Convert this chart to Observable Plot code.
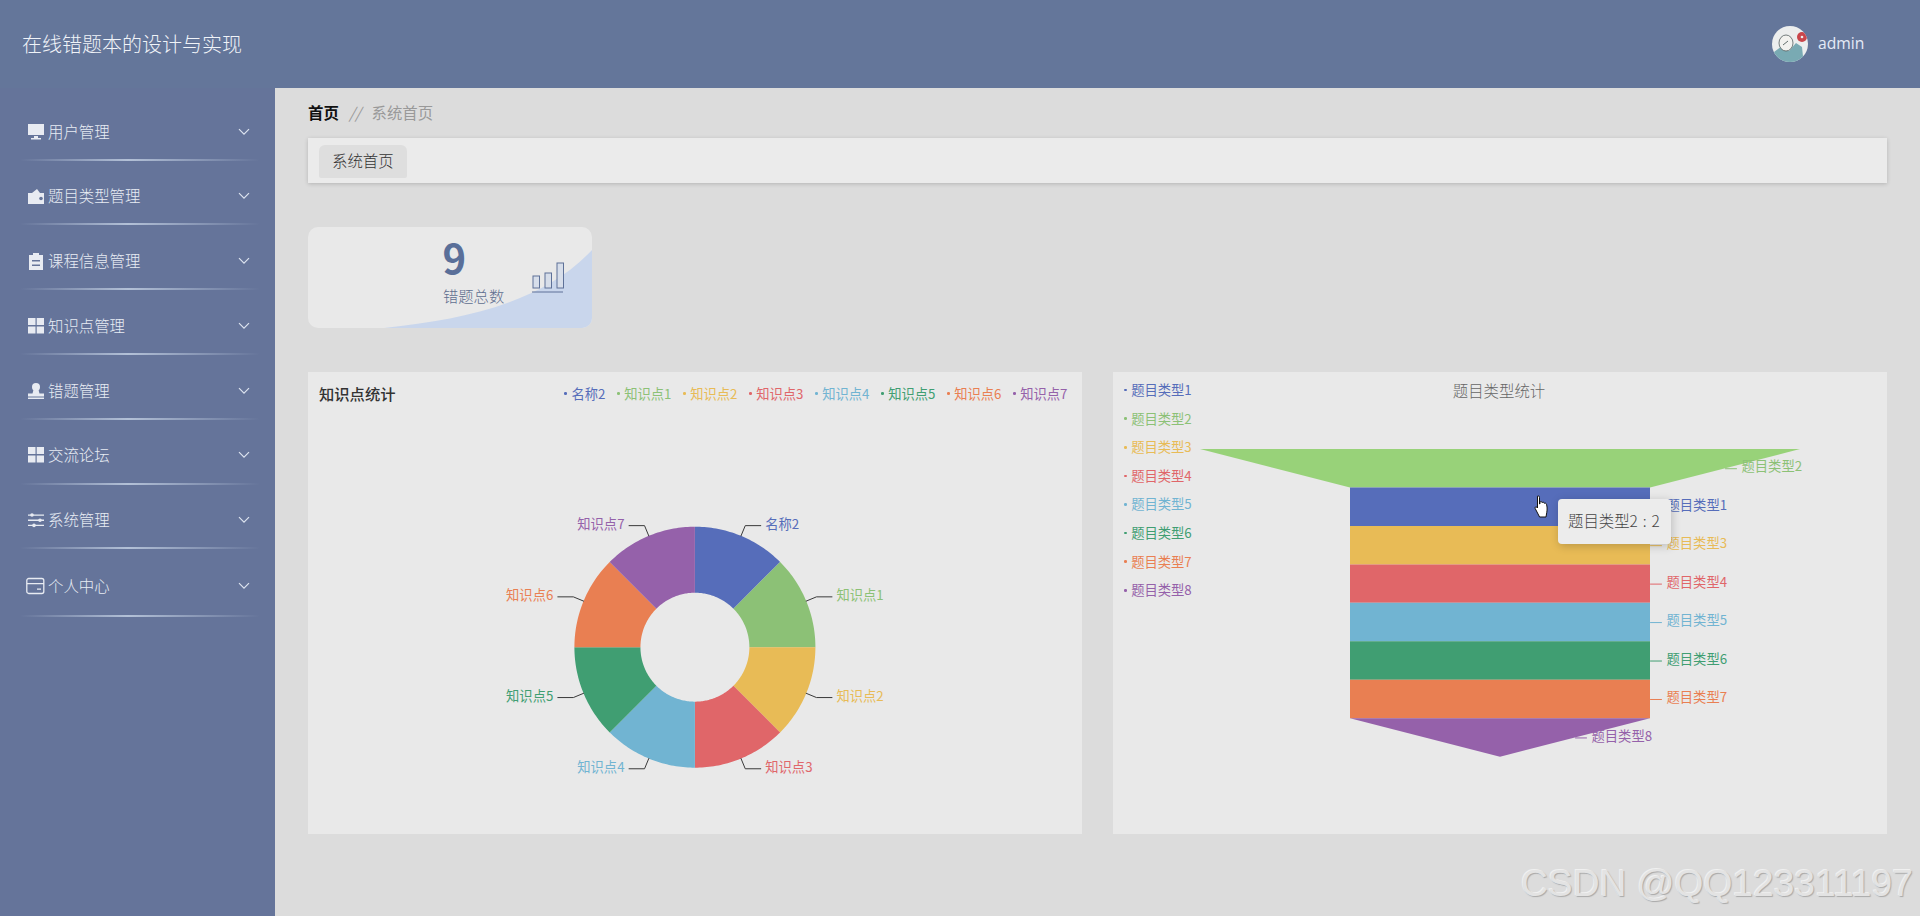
<!DOCTYPE html>
<html lang="zh">
<head>
<meta charset="utf-8">
<title>在线错题本的设计与实现</title>
<script src="https://cdn.jsdelivr.net/npm/d3@7"></script>
<script src="https://cdn.jsdelivr.net/npm/@observablehq/plot@0.6"></script>
<style>
html,body{margin:0;padding:0;width:1920px;height:916px;overflow:hidden;background:#dcdcdc;font-family:"Noto Sans CJK SC","Noto Sans",sans-serif;}
.abs{position:absolute;white-space:nowrap;line-height:1;}
#header{position:absolute;left:0;top:0;width:1920px;height:88px;background:#64769a;}
#side{position:absolute;left:0;top:88px;width:275px;height:828px;background:#65749a;}
.divider{position:absolute;left:20px;width:240px;height:2px;background:linear-gradient(90deg,rgba(255,255,255,0),rgba(205,218,235,.75) 45%,rgba(255,255,255,0));}
.panel{position:absolute;top:372px;width:774px;height:462px;background:#e9e9e9;}
.panel svg{position:absolute;left:0;top:0;}
.legendH{position:absolute;right:14.5px;top:13.5px;display:flex;gap:11.55px;font-size:13.3px;height:16px;align-items:center;}
.legendV{position:absolute;left:11px;top:3.8px;font-size:13.3px;}
.li{display:flex;align-items:center;white-space:nowrap;line-height:16px;}
.li i{display:block;width:2.6px;height:2.6px;border-radius:50%;margin-right:4.6px;background:currentColor;}
.legendV .li{height:28.6px;}
</style>
</head>
<body>
<div id="root"></div>
<script>
// ---- chart data ----
const knowledgeNames = ["名称2","知识点1","知识点2","知识点3","知识点4","知识点5","知识点6","知识点7"];
const knowledgeValues = [1,1,1,1,1,1,1,1];
const typeNames = ["题目类型1","题目类型2","题目类型3","题目类型4","题目类型5","题目类型6","题目类型7","题目类型8"];
const typeValues = [1,2,1,1,1,1,1,1];
const seriesColors = ["#566dba","#8cc176","#e8bb56","#e06669","#71b4d2","#409e72","#e97f52","#9561aa"];
const hoverGreen = "#98d279";
const menuNames = ["用户管理","题目类型管理","课程信息管理","知识点管理","错题管理","交流论坛","系统管理","个人中心"];
const totalWrong = "9";
const fontCJK = '"Noto Sans CJK SC"';

// ---- page chrome ----
const root = document.getElementById("root");
function add(html){ root.insertAdjacentHTML("beforeend", html); }
const ic = {
 monitor:'<path d="M1 1h16v11H1z" fill="currentColor"/><path d="M7 13h4v2h3v1.5H4V15h3z" fill="currentColor"/>',
 bag:'<path d="M1 6h16v11H1z" fill="currentColor"/><path d="M5 6l5-4 3 4z" fill="currentColor"/><circle cx="14" cy="11.5" r="1.8" fill="#65749a"/>',
 clip:'<path d="M2 3h14v15H2z" fill="currentColor"/><path d="M6 1h6v3H6z" fill="currentColor"/><path d="M5 8h8v1.4H5zM5 12.5h8v1.4H5z" fill="#65749a"/>',
 grid:'<path d="M1 1h7.5v7H1zM9.7 1H17v7H9.7zM1 9.4h7.5V16.5H1zM9.7 9.4H17v7H9.7z" fill="currentColor"/>',
 stamp:'<circle cx="9" cy="5" r="4" fill="currentColor"/><path d="M6.5 8h5l1 3.5H17v3H1v-3h4.5zM1 15.5h16V17H1z" fill="currentColor"/>',
 sliders:'<path d="M1 3.4h16v1.3H1zM1 8.6h16v1.3H1zM1 13.8h16v1.3H1z" fill="currentColor"/><circle cx="5" cy="4" r="1.8" fill="currentColor"/><circle cx="13" cy="9.2" r="1.8" fill="currentColor"/><circle cx="7" cy="14.4" r="1.8" fill="currentColor"/>',
 card:'<rect x=".8" y="1.5" width="17" height="15" rx="2" fill="none" stroke="currentColor" stroke-width="1.3"/><path d="M1 6h17v1.2H1zM11 11.5h4v1.2h-4z" fill="currentColor"/>'
};
const menuIcons = ["monitor","bag","clip","grid","stamp","grid","sliders","card"];
const menuTextY = [132,196.2,261,326,391,455.2,520.3,586];
const menuLineY = [160,224,289,354,419,483.6,548,616];

add('<div id="side"></div><div id="header"></div>');
add('<div class="abs" style="left:22px;top:34px;font-size:20px;color:#f0f3f8;font-weight:300;">在线错题本的设计与实现</div>');
add(`<svg class="abs" style="left:1772px;top:26px" width="36" height="36" viewBox="0 0 36 36">
<defs><clipPath id="av"><circle cx="18" cy="18" r="18"/></clipPath></defs>
<g clip-path="url(#av)"><rect width="36" height="36" fill="#eceeee"/>
<path d="M2 26l8-6 7 5 7-8 6 4 2 19H5z" fill="#79aab3"/>
<ellipse cx="14" cy="17" rx="7" ry="8" fill="#f2f2ef" stroke="#54605f" stroke-width=".8"/>
<path d="M11 19l5-4" stroke="#54605f" stroke-width=".9"/>
<circle cx="30" cy="11" r="5" fill="#c9464b"/><circle cx="30" cy="11" r="1.3" fill="#eee"/></g></svg>`);
add('<div class="abs" style="left:1818px;top:36px;font-size:15.7px;color:#e4eaf6;font-family:\'Open Sans\',sans-serif;">admin</div>');

menuNames.forEach((n,i)=>{
  add(`<svg class="abs" style="left:${i==7?26:27}px;top:${menuTextY[i]-9.5}px;color:#e8ebf2" width="19" height="18" viewBox="0 0 19 18">${ic[menuIcons[i]]}</svg>`);
  add(`<div class="abs" style="left:48px;top:${menuTextY[i]-8.5}px;font-size:15.4px;color:#e8ecf4;font-weight:300;">${n}</div>`);
  add(`<svg class="abs" style="left:238px;top:${menuTextY[i]-4.5}px" width="12" height="8" viewBox="0 0 12 8"><path d="M1 1.2l5 5 5-5" fill="none" stroke="#dde4f0" stroke-width="1.2"/></svg>`);
  add(`<div class="divider" style="top:${menuLineY[i]-1}px"></div>`);
});

add('<div class="abs" style="left:308px;top:104.5px;font-size:15.4px;font-weight:700;color:#111;">首页</div>');
add('<div class="abs" style="left:349px;top:104.5px;font-size:15.4px;font-style:italic;color:#999;">//</div>');
add('<div class="abs" style="left:371.5px;top:104.5px;font-size:15.4px;color:#999;">系统首页</div>');
add('<div style="position:absolute;left:308px;top:138px;width:1579px;height:45px;background:#ebebeb;box-shadow:0 1px 4px rgba(0,0,0,.18);"></div>');
add('<div style="position:absolute;left:319px;top:145px;width:88px;height:33px;background:#dedede;border-radius:6px 6px 2px 2px;"></div>');
add('<div class="abs" style="left:332px;top:152.5px;font-size:15.4px;color:#333;font-weight:300;">系统首页</div>');

// stat card
add(`<svg class="abs" style="left:308px;top:227px" width="284" height="101" viewBox="0 0 284 101">
<defs><clipPath id="cc"><rect width="284" height="101" rx="10"/></clipPath></defs>
<g clip-path="url(#cc)"><rect width="284" height="101" fill="#e9e9e9"/>
<path d="M76 101C160 92 235 75 284 23V101Z" fill="#c9d6ec"/></g>
<g fill="#d7deea" stroke="#5e7198" stroke-width="1"><rect x="225" y="49" width="6.5" height="12"/><rect x="237" y="46" width="6.5" height="15"/><rect x="249" y="36" width="6.5" height="25"/></g>
<path d="M224 65h31" stroke="#5e7198" stroke-width="1"/></svg>`);
add(`<div class="abs" style="left:442.5px;top:237px;font-size:40px;font-weight:700;color:#5a6f99;">${totalWrong}</div>`);
add('<div class="abs" style="left:443px;top:287.5px;font-size:15.3px;color:#5f6f8f;font-weight:300;">错题总数</div>');

// panels
add('<div class="panel" id="pL" style="left:308px"></div><div class="panel" id="pR" style="left:1113px"></div>');
const pL = document.getElementById("pL"), pR = document.getElementById("pR");

// ---- donut: Plot marks driven by values ----
const panelW = 774, panelH = 462;
const donutR = 120.5, donutCx = 386.4, donutCy = 274.7, holeRatio = 0.452;
const pieArcs = d3.pie().sort(null)(knowledgeValues);
const polar = (r,a)=>({x:r*Math.sin(a),y:r*Math.cos(a)});
const sliceRows = [], leaderRows = [], donutLabels = [];
pieArcs.forEach((arc,i)=>{
  const name = knowledgeNames[i];
  const steps = 40;
  const angles = d3.range(steps+1).map(k=>arc.startAngle+(arc.endAngle-arc.startAngle)*k/steps);
  angles.forEach(a=>sliceRows.push({name,...polar(1,a)}));
  angles.slice().reverse().forEach(a=>sliceRows.push({name,...polar(holeRatio,a)}));
  const mid = (arc.startAngle+arc.endAngle)/2;
  const side = Math.sin(mid)>=0 ? 1 : -1;
  const p0 = polar(1,mid), p1 = polar(1.092,mid), p2 = {x:p1.x+side*15.5/donutR,y:p1.y};
  leaderRows.push({name,...p0},{name,...p1},{name,...p2});
  donutLabels.push({name,side,x:p2.x,y:p2.y});
});
const donut = Plot.plot({
  width:panelW,height:panelH,margin:0,
  style:{background:"transparent",fontFamily:fontCJK},
  x:{axis:null,domain:[-donutCx/donutR,(panelW-donutCx)/donutR],range:[0,panelW]},
  y:{axis:null,domain:[-(panelH-donutCy)/donutR,donutCy/donutR],range:[panelH,0]},
  color:{domain:knowledgeNames,range:seriesColors},
  marks:[
    Plot.line(sliceRows,{x:"x",y:"y",z:"name",fill:"name",stroke:"none"}),
    Plot.line(leaderRows,{x:"x",y:"y",z:"name",stroke:"#3a3a3a",strokeWidth:1}),
    Plot.text(donutLabels.filter(d=>d.side>0),{x:"x",y:"y",text:"name",fill:"name",textAnchor:"start",dx:4.5,dy:-1,fontSize:13.3}),
    Plot.text(donutLabels.filter(d=>d.side<0),{x:"x",y:"y",text:"name",fill:"name",textAnchor:"end",dx:-4.5,dy:-1,fontSize:13.3})
  ]
});
pL.appendChild(donut);
pL.insertAdjacentHTML("beforeend",'<div class="abs" style="left:11px;top:14.2px;font-size:15.3px;font-weight:500;color:#333;">知识点统计</div>');
pL.insertAdjacentHTML("beforeend",'<div class="legendH">'+knowledgeNames.map((n,i)=>`<div class="li" style="color:${seriesColors[i]}"><i></i>${n}</div>`).join("")+'</div>');

// ---- funnel ----
const funnelOrder = d3.range(typeNames.length).sort((a,b)=>d3.descending(typeValues[a],typeValues[b])||a-b);
const funnelMax = d3.max(typeValues);
const funnelUnitX = 300, funnelCx = 387, funnelTop = 77, funnelRow = 38.46;
const funnelRows = [], funnelLeaders = [], funnelLabels = [];
funnelOrder.forEach((t,rank)=>{
  const name = typeNames[t], color = seriesColors[t];
  const w0 = typeValues[t]/funnelMax;
  const nx = funnelOrder[rank+1];
  const w1 = nx===undefined ? 0 : typeValues[nx]/funnelMax;
  const fill = t===1 ? hoverGreen : color;
  funnelRows.push({name,fill,y:rank,x1:-w0,x2:w0},{name,fill,y:rank+1,x1:-w1,x2:w1});
  const edge = (w0+w1)/2, y = rank+.5;
  funnelLeaders.push({name,color,x:edge,y},{name,color,x:edge+11/funnelUnitX,y});
  funnelLabels.push({name,color,x:edge+11/funnelUnitX,y});
});
const funnel = Plot.plot({
  width:panelW,height:panelH,margin:0,
  style:{background:"transparent",fontFamily:fontCJK},
  x:{axis:null,domain:[-funnelCx/funnelUnitX,(panelW-funnelCx)/funnelUnitX],range:[0,panelW]},
  y:{axis:null,domain:[-funnelTop/funnelRow,(panelH-funnelTop)/funnelRow],range:[0,panelH]},
  marks:[
    Plot.areaX(funnelRows,{y:"y",x1:"x1",x2:"x2",z:"name",fill:d=>d.fill}),
    Plot.line(funnelLeaders,{x:"x",y:"y",z:"name",stroke:d=>d.color,strokeWidth:1}),
    Plot.text(funnelLabels,{x:"x",y:"y",text:"name",fill:d=>d.color,textAnchor:"start",dx:5,dy:-1.5,fontSize:13.3})
  ]
});
pR.appendChild(funnel);
pR.insertAdjacentHTML("beforeend",'<div class="abs" style="left:-1px;width:100%;text-align:center;top:11px;font-size:15.4px;color:#666;font-weight:300;">题目类型统计</div>');
pR.insertAdjacentHTML("beforeend",'<div class="legendV">'+typeNames.map((n,i)=>`<div class="li" style="color:${seriesColors[i]}"><i></i>${n}</div>`).join("")+'</div>');

// tooltip + pointer
pR.insertAdjacentHTML("beforeend",`<div class="abs" style="left:444.5px;top:127px;width:113px;height:45px;background:#ececec;border-radius:4px;box-shadow:1px 2px 10px rgba(0,0,0,.2);font-size:15.4px;color:#444;font-weight:300;line-height:43px;text-indent:10.5px;word-spacing:1.5px;">题目类型2 : 2</div>`);
pR.insertAdjacentHTML("beforeend",`<svg class="abs" style="left:421px;top:123px" width="16" height="23" viewBox="0 0 16 23"><path d="M3.5 1.2c1 -.7 2 0 2 1.2V9l.4 0 0-2c1-.8 2 -.5 2.2.6.9-.7 2-.4 2.2.7.9-.5 2 0 2.2 1 .6 2 .9 5 .3 8L12 22H5.6L1.2 13.5c-.6-1.2.7-2.2 1.7-1.2l.6.7z" fill="#fff" stroke="#111" stroke-width="1"/></svg>`);

// watermark
add('<div class="abs" style="left:1521px;top:865px;font-size:37.2px;font-family:\'Liberation Sans\',sans-serif;color:#e3e3e3;text-shadow:1px 1px 1px #a9a9a9,-1px -1px 0 #f0f0f0;">CSDN @QQ123311197</div>');
</script>
</body>
</html>
